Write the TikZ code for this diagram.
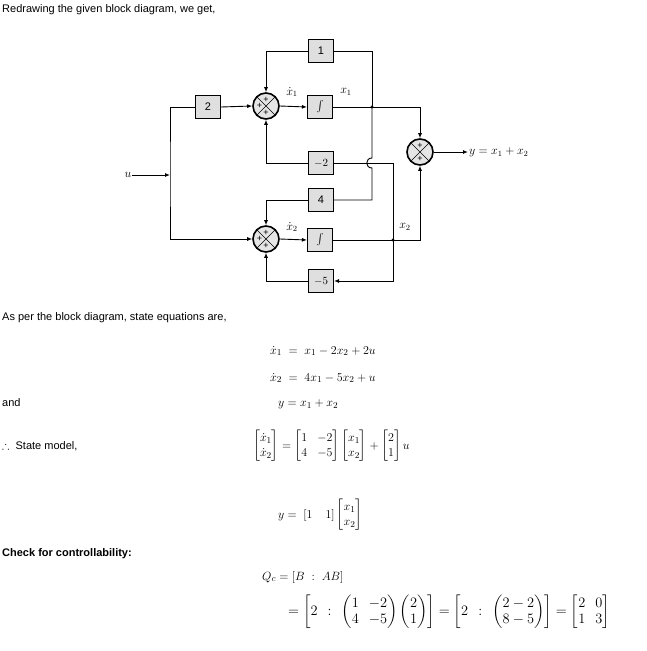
\documentclass[tikz,border=0pt]{standalone}
\usepackage{fontspec}
\setmainfont{Liberation Sans}
\usepackage{amsmath,amssymb}
\usetikzlibrary{arrows.meta}
\begin{document}
\begin{tikzpicture}[x=1pt,y=-1pt,
  blk/.style={draw,line width=1.1pt,fill=gray!25,minimum width=25pt,minimum height=23pt,inner sep=0pt,font=\fontsize{11}{12}\selectfont},
  sumj/.style={draw,circle,line width=1.6pt,fill=gray!20,minimum size=26pt,inner sep=0pt},
  ln/.style={line width=0.9pt},
  arr/.style={ln,-{Latex[length=5pt,width=4pt]}},
  txt/.style={anchor=west,inner sep=0pt,font=\fontsize{11}{13}\selectfont},
  mth/.style={anchor=west,inner sep=0pt,font=\fontsize{13}{15}\selectfont},
  lab/.style={inner sep=0pt,font=\fontsize{12}{13}\selectfont},
  pl/.style={inner sep=0pt,font=\fontsize{9}{9}\selectfont}]
\useasboundingbox (0,0) rectangle (646,651);
\node[txt] (t0) at (2,10) {Redrawing the given block diagram, we get,};
% blocks
\node[blk] (b1) at (321,51) {1};
\node[blk] (b2) at (208,107) {2};
\node[blk] (i1) at (320,107) {$\int$};
\node[blk] (bm2) at (321,163) {$-2$};
\node[blk] (b4) at (321,200) {4};
\node[blk] (i2) at (320,240) {$\int$};
\node[blk] (b5) at (321,281) {$-5$};
\node[sumj] (s1) at (266,106) {};
\node[sumj] (s2) at (266,239) {};
\node[sumj] (so) at (420,152) {};
\foreach \s in {s1,s2,so}{
  \draw[line width=0.5pt] (\s.north west) -- (\s.south east) (\s.north east) -- (\s.south west);
  \node[pl] at ([yshift=-6.5pt]\s.center) {+};
  \node[pl] at ([yshift=6.5pt]\s.center) {+};}
\foreach \s in {s1,s2}{\node[pl] at ([xshift=-6.5pt]\s.center) {+};}
% coordinates
\coordinate (uj) at (170,175);
\coordinate (j1) at (372,107);
\coordinate (j2) at (393,240);
\coordinate (yo) at (468,152);
\node[lab] (u) at (128,175) {$u$};
\draw[arr] (u) -- (uj);
\draw[arr] (b2.west) -| (uj) |- (s2.west);
\draw[arr] (b2.east) -- (s1.west);
\draw[arr] (s1.east) -- (i1.west);
\draw[arr] (s2.east) -- (i2.west);
\draw[ln] (i1.east) -- (j1);
\draw[arr] (j1) -| (so.north);
\draw[ln] (j1) |- (b1.east);
\draw[arr] (b1.west) -| (s1.north);
\draw[ln] (j1) -- (372,158) .. controls (365,158) and (365,168) .. (372,168) |- (b4.east);
\draw[arr] (b4.west) -| (s2.north);
\draw[ln] (j2) |- (bm2.east);
\draw[arr] (bm2.west) -| (s1.south);
\draw[ln] (i2.east) -- (j2);
\draw[arr] (j2) -| (so.south);
\draw[arr] (j2) |- (b5.east);
\draw[arr] (b5.west) -| (s2.south);
\draw[arr] (so.east) -- (yo);
\node[lab,anchor=west,inner sep=1pt] (yl) at (yo) {$y = x_1 + x_2$};
\fill (j1) circle (1.6pt) (j2) circle (1.6pt);
\node[lab] (l1) at (292,92) {$\dot x_1$};
\node[lab] (l2) at (346,92) {$x_1$};
\node[lab] (l3) at (292,227) {$\dot x_2$};
\node[lab] (l4) at (405,227) {$x_2$};
% text
\node[txt] (t1) at (2,318) {As per the block diagram, state equations are,};
\node[mth] (e1) at (270,351) {$\dot x_1 \;=\; x_1 - 2x_2 + 2u$};
\node[mth] (e2) at (270,378) {$\dot x_2 \;=\; 4x_1 - 5x_2 + u$};
\node[txt] (t2) at (2,403) {and};
\node[mth] (e3) at (278,404) {$y = x_1 + x_2$};
\node[txt] (t3) at (2,446) {$\therefore$\ \ State model,};
\node[mth] (e4) at (253,446) {$\begin{bmatrix}\dot x_1\\ \dot x_2\end{bmatrix}=\begin{bmatrix}1&-2\\4&-5\end{bmatrix}\begin{bmatrix}x_1\\ x_2\end{bmatrix}+\begin{bmatrix}2\\1\end{bmatrix}u$};
\node[mth] (e5) at (278,515) {$y = \;[1\quad 1]\begin{bmatrix}x_1\\ x_2\end{bmatrix}$};
\node[txt,font=\fontsize{11}{13}\selectfont\bfseries] (t4) at (2,554) {Check for controllability:};
\node[mth] (e6) at (262,577) {$Q_c = [B\ :\ AB]$};
\node[mth,font=\fontsize{14}{16}\selectfont] (e7) at (288,612) {$=\begin{bmatrix}2&:&\begin{pmatrix}1&-2\\4&-5\end{pmatrix}\begin{pmatrix}2\\1\end{pmatrix}\end{bmatrix}=\begin{bmatrix}2&:&\begin{pmatrix}2-2\\8-5\end{pmatrix}\end{bmatrix}=\begin{bmatrix}2&0\\1&3\end{bmatrix}$};
\end{tikzpicture}
\end{document}
